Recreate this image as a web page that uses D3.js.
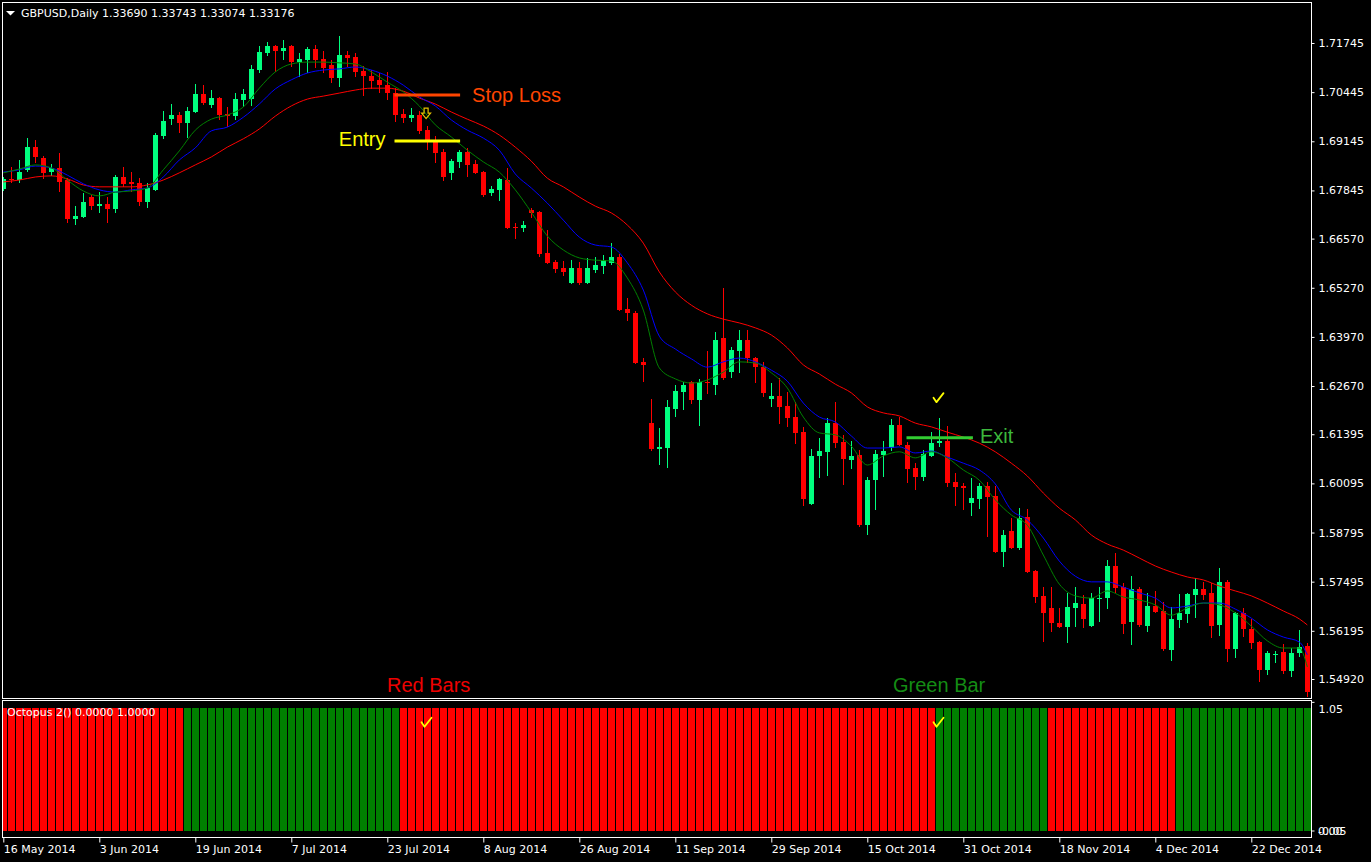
<!DOCTYPE html>
<html><head><meta charset="utf-8">
<script src="https://cdn.jsdelivr.net/npm/d3@7"></script>
<style>html,body{margin:0;padding:0;background:#000;overflow:hidden}</style>
</head><body>
<svg id="chart" width="1371" height="862"></svg>
<script>
// ---------- DATA (GBPUSD daily, bar index 0..163) ----------
const symbolTitle = "GBPUSD,Daily";
const titleQuote = "1.33690 1.33743 1.33074 1.33176";
const indicatorTitle = "Octopus 2() 0.0000 1.0000";

const open = [1.6788,1.6815,1.6812,1.6839,1.6899,1.6870,1.6833,1.6844,1.6812,1.6709,
1.6714,1.6767,1.6743,1.6749,1.6735,1.6820,1.6807,1.6804,1.6754,1.6786,
1.6928,1.6973,1.6984,1.6963,1.6992,1.7040,1.7010,1.7029,1.6987,1.6981,
1.7024,1.7026,1.7103,1.7148,1.7167,1.7153,1.7167,1.7124,1.7130,1.7159,
1.7132,1.7116,1.7082,1.7143,1.7137,1.7100,1.7087,1.7077,1.7063,1.7042,
1.6987,1.6976,1.6984,1.6944,1.6915,1.6886,1.6831,1.6860,1.6886,1.6854,
1.6833,1.6778,1.6786,1.6812,1.6688,1.6685,1.6733,1.6727,1.6619,1.6595,
1.6579,1.6540,1.6579,1.6540,1.6574,1.6584,1.6593,1.6608,1.6471,1.6460,
1.6331,1.6169,1.6100,1.6103,1.6206,1.6251,1.6278,1.6230,1.6278,1.6270,
1.6394,1.6304,1.6360,1.6389,1.6341,1.6317,1.6233,1.6241,1.6214,1.6185,
1.6145,1.5955,1.6082,1.6093,1.6169,1.6119,1.6071,1.6085,1.5899,1.6018,
1.6085,1.6103,1.6164,1.6111,1.6050,1.6026,1.6082,1.6116,1.6122,1.6013,
1.6002,1.5958,1.5968,1.6002,1.5976,1.5828,1.5884,1.5839,1.5921,1.5778,
1.5712,1.5680,1.5640,1.5630,1.5680,1.5690,1.5632,1.5704,1.5706,1.5791,
1.5735,1.5643,1.5730,1.5632,1.5685,1.5672,1.5569,1.5648,1.5664,1.5714,
1.5730,1.5720,1.5635,1.5749,1.5571,1.5667,1.5624,1.5590,1.5516,1.5556,
1.5563,1.5513,1.5561,1.5579];
const high = [1.6820,1.6846,1.6865,1.6923,1.6918,1.6876,1.6854,1.6884,1.6817,1.6743,
1.6778,1.6772,1.6780,1.6767,1.6825,1.6846,1.6833,1.6817,1.6804,1.6936,
1.6995,1.7013,1.6992,1.7005,1.7066,1.7063,1.7050,1.7032,1.7005,1.7042,
1.7053,1.7116,1.7167,1.7177,1.7169,1.7182,1.7169,1.7148,1.7164,1.7169,
1.7153,1.7130,1.7193,1.7153,1.7148,1.7114,1.7103,1.7095,1.7098,1.7055,
1.7000,1.7003,1.6995,1.6955,1.6928,1.6894,1.6868,1.6891,1.6897,1.6865,
1.6836,1.6796,1.6817,1.6844,1.6698,1.6704,1.6738,1.6730,1.6680,1.6600,
1.6598,1.6600,1.6595,1.6606,1.6608,1.6614,1.6645,1.6616,1.6500,1.6466,
1.6341,1.6233,1.6156,1.6230,1.6270,1.6278,1.6280,1.6286,1.6360,1.6410,
1.6526,1.6370,1.6415,1.6415,1.6344,1.6331,1.6275,1.6288,1.6251,1.6225,
1.6159,1.6100,1.6129,1.6182,1.6225,1.6137,1.6122,1.6098,1.6026,1.6098,
1.6122,1.6180,1.6185,1.6119,1.6063,1.6098,1.6145,1.6182,1.6161,1.6037,
1.6010,1.6024,1.6010,1.6013,1.6002,1.5886,1.5918,1.5944,1.5942,1.5780,
1.5735,1.5735,1.5680,1.5720,1.5735,1.5714,1.5720,1.5735,1.5807,1.5825,
1.5746,1.5764,1.5735,1.5720,1.5725,1.5696,1.5682,1.5717,1.5720,1.5759,
1.5749,1.5746,1.5786,1.5754,1.5669,1.5680,1.5651,1.5593,1.5566,1.5566,
1.5585,1.5574,1.5622,1.5587];
const low = [1.6783,1.6804,1.6804,1.6833,1.6857,1.6815,1.6823,1.6780,1.6698,1.6693,
1.6712,1.6733,1.6725,1.6698,1.6725,1.6794,1.6780,1.6743,1.6738,1.6783,
1.6921,1.6958,1.6936,1.6923,1.6989,1.7010,1.7003,1.6971,1.6952,1.6971,
1.7005,1.7008,1.7095,1.7140,1.7098,1.7130,1.7111,1.7085,1.7095,1.7108,
1.7095,1.7069,1.7058,1.7111,1.7085,1.7034,1.7053,1.7042,1.7024,1.6966,
1.6963,1.6966,1.6934,1.6891,1.6857,1.6810,1.6812,1.6844,1.6820,1.6828,
1.6767,1.6770,1.6757,1.6682,1.6656,1.6675,1.6712,1.6608,1.6590,1.6566,
1.6558,1.6537,1.6534,1.6537,1.6566,1.6564,1.6587,1.6466,1.6439,1.6325,
1.6278,1.6095,1.6058,1.6050,1.6185,1.6204,1.6219,1.6161,1.6246,1.6243,
1.6283,1.6288,1.6302,1.6328,1.6275,1.6238,1.6212,1.6167,1.6159,1.6114,
1.5950,1.5952,1.6024,1.6029,1.6103,1.6005,1.6048,1.5894,1.5873,1.5939,
1.6026,1.6095,1.6108,1.6010,1.5992,1.6016,1.6079,1.6106,1.6000,1.5950,
1.5939,1.5923,1.5942,1.5868,1.5825,1.5788,1.5836,1.5833,1.5772,1.5693,
1.5590,1.5616,1.5627,1.5587,1.5630,1.5627,1.5630,1.5643,1.5677,1.5720,
1.5611,1.5582,1.5630,1.5616,1.5667,1.5566,1.5540,1.5627,1.5640,1.5653,
1.5701,1.5600,1.5606,1.5537,1.5548,1.5603,1.5571,1.5484,1.5503,1.5534,
1.5505,1.5497,1.5550,1.5444];
const close = [1.6815,1.6812,1.6833,1.6899,1.6873,1.6831,1.6844,1.6807,1.6709,1.6717,
1.6754,1.6743,1.6749,1.6735,1.6820,1.6802,1.6802,1.6754,1.6791,1.6931,
1.6968,1.6984,1.6963,1.6995,1.7040,1.7016,1.7029,1.6984,1.6981,1.7026,
1.7040,1.7106,1.7151,1.7167,1.7153,1.7161,1.7124,1.7132,1.7159,1.7130,
1.7108,1.7082,1.7143,1.7135,1.7098,1.7087,1.7074,1.7063,1.7042,1.6984,
1.6976,1.6984,1.6942,1.6913,1.6884,1.6820,1.6862,1.6886,1.6852,1.6831,
1.6772,1.6788,1.6815,1.6685,1.6685,1.6693,1.6725,1.6616,1.6593,1.6577,
1.6569,1.6579,1.6540,1.6579,1.6587,1.6600,1.6608,1.6468,1.6460,1.6328,
1.6323,1.6100,1.6106,1.6212,1.6254,1.6270,1.6230,1.6278,1.6275,1.6389,
1.6288,1.6362,1.6389,1.6341,1.6317,1.6249,1.6241,1.6212,1.6182,1.6143,
1.5968,1.6082,1.6095,1.6169,1.6116,1.6074,1.6082,1.5899,1.6018,1.6087,
1.6095,1.6164,1.6111,1.6048,1.6026,1.6087,1.6116,1.6122,1.6010,1.6000,
1.5997,1.5971,1.6002,1.5974,1.5828,1.5873,1.5839,1.5918,1.5775,1.5709,
1.5667,1.5640,1.5630,1.5682,1.5693,1.5651,1.5706,1.5706,1.5791,1.5733,
1.5638,1.5730,1.5635,1.5685,1.5669,1.5571,1.5651,1.5667,1.5717,1.5730,
1.5714,1.5632,1.5749,1.5571,1.5667,1.5624,1.5587,1.5516,1.5561,1.5558,
1.5513,1.5561,1.5577,1.5458];

// Moving averages, read every 2nd bar (0,2,...,162) plus the last bar 163
const maFast = [1.6831,1.6841,1.6852,1.6844,1.6812,1.6783,1.6770,1.6780,1.6783,1.6791,
1.6839,1.6889,1.6944,1.6973,1.6984,1.7005,1.7055,1.7098,1.7119,1.7124,
1.7124,1.7122,1.7119,1.7098,1.7071,1.7045,1.7008,1.6958,1.6926,1.6891,
1.6860,1.6833,1.6786,1.6727,1.6664,1.6627,1.6606,1.6600,1.6598,1.6553,
1.6468,1.6315,1.6286,1.6275,1.6283,1.6304,1.6331,1.6328,1.6302,1.6262,
1.6185,1.6143,1.6138,1.6108,1.6058,1.6082,1.6093,1.6077,1.6093,1.6077,
1.6045,1.6018,1.5966,1.5926,1.5899,1.5820,1.5743,1.5712,1.5706,1.5725,
1.5709,1.5701,1.5688,1.5661,1.5680,1.5693,1.5688,1.5667,1.5632,1.5593,
1.5574,1.5574,1.5524];
const maMid = [1.6833,1.6839,1.6849,1.6844,1.6825,1.6802,1.6786,1.6780,1.6786,1.6791,
1.6820,1.6865,1.6897,1.6942,1.6952,1.6978,1.7013,1.7053,1.7077,1.7095,
1.7103,1.7106,1.7111,1.7103,1.7087,1.7063,1.7032,1.7008,1.6971,1.6944,
1.6923,1.6891,1.6828,1.6791,1.6751,1.6706,1.6661,1.6640,1.6635,1.6593,
1.6521,1.6399,1.6365,1.6339,1.6317,1.6331,1.6341,1.6331,1.6309,1.6280,
1.6222,1.6185,1.6172,1.6135,1.6103,1.6103,1.6106,1.6090,1.6095,1.6079,
1.6063,1.6045,1.6008,1.5939,1.5913,1.5865,1.5804,1.5764,1.5749,1.5749,
1.5735,1.5720,1.5706,1.5680,1.5685,1.5693,1.5693,1.5677,1.5653,1.5622,
1.5603,1.5590,1.5556];
const maSlow = [1.6807,1.6812,1.6820,1.6823,1.6815,1.6799,1.6794,1.6794,1.6794,1.6799,
1.6812,1.6831,1.6852,1.6873,1.6899,1.6921,1.6947,1.6981,1.7008,1.7026,
1.7034,1.7042,1.7050,1.7055,1.7055,1.7047,1.7029,1.7013,1.6992,1.6973,
1.6955,1.6931,1.6899,1.6862,1.6817,1.6794,1.6767,1.6743,1.6725,1.6693,
1.6645,1.6569,1.6516,1.6481,1.6458,1.6444,1.6434,1.6421,1.6402,1.6368,
1.6323,1.6299,1.6272,1.6249,1.6212,1.6196,1.6188,1.6169,1.6159,1.6145,
1.6132,1.6116,1.6093,1.6063,1.6029,1.5984,1.5944,1.5913,1.5873,1.5849,
1.5833,1.5812,1.5791,1.5775,1.5762,1.5754,1.5738,1.5725,1.5712,1.5693,
1.5672,1.5651,1.5635];

const priceTicks = [1.71745,1.70445,1.69145,1.67845,1.66570,1.65270,1.63970,1.62670,1.61395,1.60095,1.58795,1.57495,1.56195,1.54920];
const dateTickIndex = [0,12,24,36,48,60,72,84,96,108,120,132,144,156];
const dateTickLabels = ["16 May 2014","3 Jun 2014","19 Jun 2014","7 Jul 2014","23 Jul 2014","8 Aug 2014","26 Aug 2014","11 Sep 2014","29 Sep 2014","15 Oct 2014","31 Oct 2014","18 Nov 2014","4 Dec 2014","22 Dec 2014"];

// Octopus 2 histogram: runs of identical state, value 1.0
const signalRuns = [["down",23],["up",27],["down",67],["up",14],["down",16],["up",17]];
const signalValue = 1.0;

// trade annotations
const stopLoss = {price:1.7037, from:48.9, to:57.1, label:"Stop Loss"};
const entry = {price:1.6915, from:48.9, to:57.1, label:"Entry"};
const exitLevel = {price:1.6130, from:112.9, to:121.2, label:"Exit"};
const sellArrow = {index:52.85, price:1.6989};
const checkMain = {index:116.9, price:1.6235};
const checkLow = [{index:52.9, value:0.88},{index:116.9, value:0.88}];

// ---------- DRAWING ----------
const W = 1371, H = 862;
const svg = d3.select('#chart');
svg.append('rect').attr('width', W).attr('height', H).attr('fill', '#000');

const FONT = 'DejaVu Sans, Verdana, sans-serif';
const N = open.length;
const x = d3.scaleLinear().domain([0, 163]).range([3.3, 3.3 + 8 * 163]);
const y = d3.scaleLinear().domain([1.54920, 1.71745]).range([679, 43]);
const yLow = d3.scaleLinear().domain([0, 1.05]).range([831, 701.85]);

const mainLeft = 2.5, mainRight = 1311.5, mainTop = 2.5, mainBottom = 698.5;
const lowTop = 700.5, lowBottom = 837.5;

svg.append('clipPath').attr('id', 'clipMain').append('rect')
  .attr('x', 3).attr('y', 3).attr('width', 1308).attr('height', 695);
svg.append('clipPath').attr('id', 'clipLow').append('rect')
  .attr('x', 3).attr('y', 701).attr('width', 1308).attr('height', 136);

const mainG = svg.append('g').attr('clip-path', 'url(#clipMain)');

// candles
const bars = d3.range(N).map(i => ({i, o: open[i], h: high[i], l: low[i], c: close[i]}));
const UP = '#00ff7f', DOWN = '#ff0000';
const cg = mainG.append('g');
cg.selectAll('line.wick').data(bars).join('line')
  .attr('class', 'wick')
  .attr('x1', d => Math.floor(x(d.i)) + 0.5).attr('x2', d => Math.floor(x(d.i)) + 0.5)
  .attr('y1', d => y(Math.max(d.h, d.o, d.c))).attr('y2', d => y(Math.min(d.l, d.o, d.c)))
  .attr('stroke', d => d.c >= d.o ? UP : DOWN).attr('stroke-width', 1)
  .attr('shape-rendering', 'crispEdges');
cg.selectAll('rect.body').data(bars).join('rect')
  .attr('class', 'body')
  .attr('x', d => Math.floor(x(d.i)) - 2)
  .attr('width', 5)
  .attr('y', d => y(Math.max(d.o, d.c)))
  .attr('height', d => Math.max(1, y(Math.min(d.o, d.c)) - y(Math.max(d.o, d.c))))
  .attr('fill', d => d.c >= d.o ? UP : DOWN)
  .attr('shape-rendering', 'crispEdges');

// moving averages
const maIdx = d3.range(0, 163, 2).concat([163]);
const lineGen = d3.line().x(d => x(d[0])).y(d => y(d[1])).curve(d3.curveMonotoneX);
[[maSlow, '#ff0000'], [maMid, '#0000ff'], [maFast, '#008000']].forEach(([arr, col]) => {
  mainG.append('path').datum(arr.map((v, k) => [maIdx[k], v]))
    .attr('d', lineGen).attr('fill', 'none').attr('stroke', col).attr('stroke-width', 1);
});

// annotation levels
function level(obj, col) {
  mainG.append('line')
    .attr('x1', x(obj.from)).attr('x2', x(obj.to))
    .attr('y1', y(obj.price)).attr('y2', y(obj.price))
    .attr('stroke', col).attr('stroke-width', 3);
}
level(stopLoss, '#ff4500');
level(entry, '#ffff00');
level(exitLevel, '#32cd32');

const ANN_FONT = 'Liberation Sans, Arial, sans-serif';
mainG.append('text').attr('x', x(stopLoss.to) + 12).attr('y', y(stopLoss.price) + 7)
  .attr('fill', '#ff4500').attr('font-family', ANN_FONT).attr('font-size', 20).text(stopLoss.label);
mainG.append('text').attr('x', x(entry.from) - 9).attr('y', y(entry.price) + 5)
  .attr('text-anchor', 'end')
  .attr('fill', '#ffff00').attr('font-family', ANN_FONT).attr('font-size', 20).text(entry.label);
mainG.append('text').attr('x', x(exitLevel.to) + 7).attr('y', y(exitLevel.price) + 5)
  .attr('fill', '#3cb83c').attr('font-family', ANN_FONT).attr('font-size', 20).text(exitLevel.label);
mainG.append('text').attr('x', 387).attr('y', 692)
  .attr('fill', '#ee0000').attr('font-family', ANN_FONT).attr('font-size', 20).text('Red Bars');
mainG.append('text').attr('x', 893).attr('y', 692)
  .attr('fill', '#148c14').attr('font-family', ANN_FONT).attr('font-size', 20).text('Green Bar');

// hollow down arrow
{
  const ax = x(sellArrow.index), ay = y(sellArrow.price);
  mainG.append('path')
    .attr('d', `M${ax-2},${ay-5} L${ax+2},${ay-5} L${ax+2},${ay} L${ax+4.5},${ay} L${ax},${ay+5.5} L${ax-4.5},${ay} L${ax-2},${ay} Z`)
    .attr('fill', 'none').attr('stroke', '#e6c200').attr('stroke-width', 1.2);
}
function check(g, cx, cy) {
  g.append('path')
    .attr('d', `M${cx-5},${cy-0.5} L${cx-2},${cy+4} L${cx+5},${cy-5}`)
    .attr('fill', 'none').attr('stroke', '#ffff00').attr('stroke-width', 1.8)
    .attr('stroke-linecap', 'round').attr('stroke-linejoin', 'round');
}
check(mainG, x(checkMain.index), y(checkMain.price));

// header
svg.append('path').attr('d', 'M6,11 L15,11 L10.5,15.5 Z').attr('fill', '#fff');
svg.append('text').attr('x', 21).attr('y', 16.5).attr('fill', '#fff')
  .attr('font-family', FONT).attr('font-size', 11).text(symbolTitle);
svg.append('text').attr('x', 102).attr('y', 16.5).attr('fill', '#fff')
  .attr('font-family', FONT).attr('font-size', 11).text(titleQuote);

// lower panel histogram
const signal = [];
signalRuns.forEach(([s, n]) => { for (let k = 0; k < n; k++) signal.push(s); });
const lowG = svg.append('g').attr('clip-path', 'url(#clipLow)');
lowG.selectAll('rect').data(signal.map((s, i) => ({s, i}))).join('rect')
  .attr('x', d => x(d.i) - 3).attr('width', 7)
  .attr('y', yLow(signalValue)).attr('height', yLow(0) - yLow(signalValue))
  .attr('fill', d => d.s === 'down' ? '#ff0000' : '#008000')
  .attr('shape-rendering', 'crispEdges');
checkLow.forEach(c => check(lowG, x(c.index), yLow(c.value)));
svg.append('text').attr('x', 7).attr('y', 715.5).attr('fill', '#fff')
  .attr('font-family', FONT).attr('font-size', 11).text(indicatorTitle);

// frames
svg.append('rect').attr('x', mainLeft).attr('y', mainTop)
  .attr('width', mainRight - mainLeft).attr('height', mainBottom - mainTop)
  .attr('fill', 'none').attr('stroke', '#fff').attr('shape-rendering', 'crispEdges');
svg.append('rect').attr('x', mainLeft).attr('y', lowTop)
  .attr('width', mainRight - mainLeft).attr('height', lowBottom - lowTop)
  .attr('fill', 'none').attr('stroke', '#fff').attr('shape-rendering', 'crispEdges');

// price axis
const pAxis = svg.append('g').attr('transform', `translate(${mainRight},0)`)
  .call(d3.axisRight(y).tickValues(priceTicks).tickFormat(d3.format('.5f')).tickSize(3).tickPadding(4));
pAxis.select('.domain').remove();
pAxis.selectAll('line').attr('stroke', '#fff');
pAxis.selectAll('text').attr('fill', '#fff').attr('font-family', FONT).attr('font-size', 11);

// lower panel scale
const lAxis = svg.append('g').attr('transform', `translate(${mainRight},0)`)
  .call(d3.axisRight(yLow).tickValues([1.05]).tickFormat(d3.format('.2f')).tickSize(3).tickPadding(4));
lAxis.select('.domain').remove();
lAxis.selectAll('line').attr('stroke', '#fff');
lAxis.selectAll('text').attr('fill', '#fff').attr('font-family', FONT).attr('font-size', 11).attr('dy', '1.0em');
// the bottom of the indicator scale prints two values on top of each other, as in the original
svg.append('text').attr('x', 1318).attr('y', yLow(0)).attr('dy', '0.35em')
  .attr('fill', '#fff').attr('font-family', FONT).attr('font-size', 11)
  .call(t => { t.append('tspan').text('0.00'); t.append('tspan').attr('x', 1318).text('-0.05'); });
svg.append('line').attr('x1', mainRight).attr('x2', mainRight + 3)
  .attr('y1', yLow(0)).attr('y2', yLow(0)).attr('stroke', '#fff');

// date axis
const dAxis = svg.append('g').attr('transform', `translate(0,${lowBottom})`)
  .call(d3.axisBottom(x).tickValues(dateTickIndex)
    .tickFormat((d, k) => dateTickLabels[k]).tickSize(5).tickPadding(3));
dAxis.select('.domain').remove();
dAxis.selectAll('line').attr('stroke', '#fff');
dAxis.selectAll('text').attr('fill', '#fff').attr('font-family', FONT).attr('font-size', 11)
  .attr('text-anchor', 'start');
</script>
</body></html>
